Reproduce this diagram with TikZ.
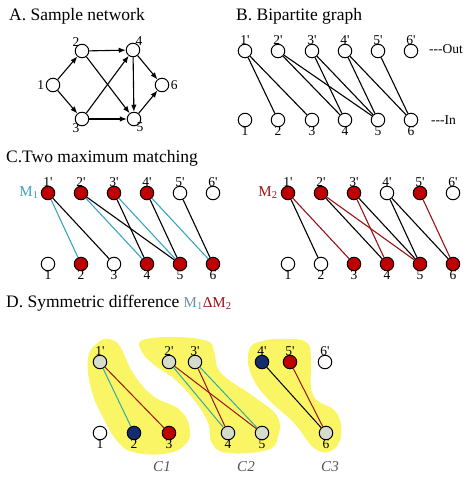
\documentclass[tikz,border=0pt]{standalone}
\usepackage{fontspec}
\setmainfont{Liberation Serif}
\usetikzlibrary{arrows.meta}
\definecolor{mred}{RGB}{192,0,0}
\definecolor{lred}{RGB}{150,20,20}
\definecolor{mcyan}{RGB}{60,163,195}
\definecolor{mteal}{RGB}{50,170,165}
\definecolor{mgrey}{RGB}{214,220,204}
\definecolor{mnavy}{RGB}{20,45,110}
\definecolor{blob}{RGB}{250,245,100}
\definecolor{mlab}{RGB}{110,140,165}
\definecolor{clab}{RGB}{85,85,85}
\newcommand\pr{\textquotesingle}
\begin{document}
\begin{tikzpicture}[x=1pt,y=-1pt,
  vtx/.style={circle,draw=black,line width=1pt,minimum size=13.5pt,inner sep=0pt,fill=white},
  vr/.style={vtx,fill=mred},
  vg/.style={vtx,fill=mgrey},
  vn/.style={vtx,fill=mnavy},
  arr/.style={-{Latex[length=7pt,width=5.5pt]},line width=1.1pt},
  edge/.style={line width=1.1pt},
  cy/.style={line width=1.1pt,draw=mcyan},
  rd/.style={line width=1.1pt,draw=lred},
  te/.style={line width=1pt,draw=mteal},
  title/.style={font=\fontsize{17.5}{20}\selectfont,anchor=west,inner sep=0pt},
  lab/.style={font=\fontsize{13.5}{13.5}\selectfont,inner sep=1pt},
  clabel/.style={font=\fontsize{15}{15}\selectfont\itshape,text=clab},
  every label/.style={lab},
  label distance=-2pt
]
\useasboundingbox (0,0) rectangle (474,485);

% ---------- A ----------
\node[title] (tA) at (9,16) {A. Sample network};
\node[vtx,label={[label distance=0.5pt]left:1}] (a1) at (53,85) {};
\node[vtx,label={[label distance=-4pt]115:2}] (a2) at (82,51) {};
\node[vtx,label={[label distance=-4pt]245:3}] (a3) at (82,119) {};
\node[vtx,label={[label distance=-4pt]65:4}] (a4) at (133,50) {};
\node[vtx,label={[label distance=-4pt]295:5}] (a5) at (134,119) {};
\node[vtx,label={[label distance=0.5pt]right:6}] (a6) at (162,85) {};
\draw[arr] (a1) -- (a2);
\draw[arr] (a1) -- (a3);
\draw[arr] (a2) -- (a4);
\draw[arr] (a2) -- (a5);
\draw[arr] (a3) -- (a4);
\draw[arr] (a3) -- (a5);
\draw[arr] (a4) -- (a5);
\draw[arr] (a4) -- (a6);
\draw[arr] (a5) -- (a6);

% ---------- B ----------
\node[title] (tB) at (236,16) {B. Bipartite graph};
\foreach \i/\x in {1/245,2/278,3/312,4/345,5/378,6/411}{
  \node[vtx,label=above:{\i\pr}] (bo\i) at (\x,51) {};
  \node[vtx,label=below:{\i}] (bi\i) at (\x,120) {};
}
\node[lab,anchor=west] (bout) at (428,49) {{-}{-}{-}Out};
\node[lab,anchor=west] (bin) at (430,120) {{-}{-}{-}In};
\foreach \a/\b in {1/2,1/3,2/4,2/5,3/4,3/5,4/5,4/6,5/6}{
  \draw[edge] (bo\a) -- (bi\b);
}

% ---------- C ----------
\node[title] (tC) at (6,158) {C.Two maximum matching};
% M1
\node[font=\fontsize{15}{15}\selectfont,text=mcyan] (m1) at (29,193) {M\textsubscript{1}};
\foreach \i/\x/\s in {1/48/vr,2/81/vr,3/114/vr,4/147/vr,5/180/vtx,6/213/vtx}{
  \node[\s,label=above:{\i\pr}] (co\i) at (\x,193) {};
}
\foreach \i/\x/\s in {1/48/vtx,2/81/vr,3/114/vtx,4/147/vr,5/180/vr,6/213/vr}{
  \node[\s,label=below:{\i}] (ci\i) at (\x,264) {};
}
\draw[edge] (co1) -- (ci3);
\draw[edge] (co2) -- (ci5);
\draw[edge] (co3) -- (ci4);
\draw[edge] (co4) -- (ci5);
\draw[edge] (co5) -- (ci6);
\draw[cy] (co1) -- (ci2);
\draw[cy] (co2) -- (ci4);
\draw[cy] (co3) -- (ci5);
\draw[cy] (co4) -- (ci6);
% M2
\node[font=\fontsize{15}{15}\selectfont,text=lred] (m2) at (268,193) {M\textsubscript{2}};
\foreach \i/\x/\s in {1/288/vr,2/321/vr,3/354/vr,4/387/vtx,5/420/vr,6/453/vtx}{
  \node[\s,label=above:{\i\pr}] (do\i) at (\x,193) {};
}
\foreach \i/\x/\s in {1/288/vtx,2/321/vtx,3/354/vr,4/387/vr,5/420/vr,6/453/vr}{
  \node[\s,label=below:{\i}] (di\i) at (\x,264) {};
}
\draw[edge] (do1) -- (di2);
\draw[edge] (do2) -- (di4);
\draw[edge] (do3) -- (di5);
\draw[edge] (do4) -- (di5);
\draw[edge] (do4) -- (di6);
\draw[rd] (do1) -- (di3);
\draw[rd] (do2) -- (di5);
\draw[rd] (do3) -- (di4);
\draw[rd] (do5) -- (di6);

% ---------- D ----------
\node[title] (tD) at (6,303) {D. Symmetric difference {\fontsize{15}{15}\selectfont\textcolor{mlab}{M\textsubscript{1}}\textcolor{lred}{ΔM\textsubscript{2}}}};
% blobs
\fill[blob] plot[smooth cycle,tension=0.7] coordinates {
 (100,341) (112,340) (121,348) (133,373) (153,396) (180,410) (190,430)
 (184,446) (163,454) (133,452) (118,442) (106,423) (92,392) (88,358)};
\fill[blob] plot[smooth cycle,tension=0.7] coordinates {
 (143,340) (175,337) (207,341) (214,351) (221,373) (253,396) (277,416)
 (278,437) (267,450) (228,453) (212,443) (206,418) (180,384) (153,364) (141,350)};
\fill[blob] plot[smooth cycle,tension=0.7] coordinates {
 (249,350) (262,341) (285,339) (306,342) (311,357) (313,395) (336,412)
 (341,436) (331,451) (314,448) (294,423) (267,398) (251,374)};
\foreach \i/\x/\s in {1/100/vg,2/169/vg,3/195/vg,4/262/vn,5/290/vr,6/325/vtx}{
  \node[\s,label=above:{\i\pr}] (eo\i) at (\x,362) {};
}
\foreach \i/\x/\s in {1/100/vtx,2/134/vn,3/169/vr,4/228/vg,5/262/vg,6/326/vg}{
  \node[\s,label=below:{\i}] (ei\i) at (\x,433) {};
}
\draw[te] (eo1) -- (ei2);
\draw[rd,line width=1pt] (eo1) -- (ei3);
\draw[te] (eo2) -- (ei4);
\draw[rd,line width=1pt] (eo2) -- (ei5);
\draw[rd,line width=1pt] (eo3) -- (ei4);
\draw[te] (eo3) -- (ei5);
\draw[line width=1pt] (eo4) -- (ei6);
\draw[rd,line width=1pt] (eo5) -- (ei6);
\node[clabel] (c1) at (162,467) {C1};
\node[clabel] (c2) at (246,467) {C2};
\node[clabel] (c3) at (330,467) {C3};
\end{tikzpicture}
\end{document}
